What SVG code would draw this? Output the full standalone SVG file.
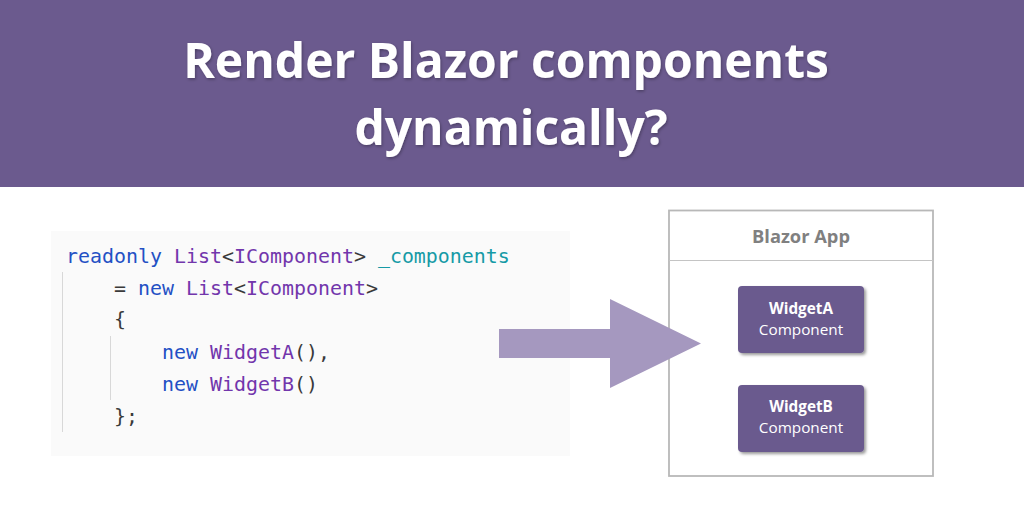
<svg xmlns="http://www.w3.org/2000/svg" width="1024" height="507" viewBox="0 0 1024 507">
<defs>
<filter id="ts" x="-10%" y="-20%" width="120%" height="140%"><feDropShadow dx="1" dy="1.5" stdDeviation="1.5" flood-color="#000" flood-opacity="0.3"/></filter>
<filter id="bs" x="-10%" y="-10%" width="125%" height="125%"><feDropShadow dx="2" dy="2" stdDeviation="1.5" flood-color="#000" flood-opacity="0.4"/></filter>
</defs>
<style>
.t{font-family:"Open Sans",sans-serif;font-weight:700;font-size:48px;fill:#fff;text-anchor:middle}
.c{font-family:"DejaVu Sans Mono",monospace;font-size:19.93px;fill:#3a3a3a;white-space:pre}
.k{fill:#2350c4}.p{fill:#7236ac}.f{fill:#169aa6}
.g{stroke:#d8d8d8;stroke-width:1;fill:none}
.n{fill:#6b5a8e;filter:url(#bs)}
.a{font-family:"Open Sans",sans-serif;font-size:15.300px;fill:#fff;text-anchor:middle}
.b{font-weight:700}
</style>
<rect width="1024" height="507" fill="#fff"/>
<rect id="banner" width="1024" height="187" fill="#6b5a8e"/>
<g id="title" filter="url(#ts)">
<text class="t" x="506" y="78">Render Blazor components</text>
<text class="t" x="511" y="145">dynamically?</text>
</g>
<g id="code">
<rect x="51" y="231" width="519" height="225" fill="#fafafa"/>
<path class="g" d="M62.500 272V432M110.500 336V400"/>
<text class="c" x="66" y="263"><tspan class="k">readonly</tspan> <tspan class="p">List</tspan>&lt;<tspan class="p">IComponent</tspan>&gt; <tspan class="f">_components</tspan></text>
<text class="c" x="114" y="295">= <tspan class="k">new</tspan> <tspan class="p">List</tspan>&lt;<tspan class="p">IComponent</tspan>&gt;</text>
<text class="c" x="114" y="326">{</text>
<text class="c" x="162" y="359"><tspan class="k">new</tspan> <tspan class="p">WidgetA</tspan>(),</text>
<text class="c" x="162" y="391"><tspan class="k">new</tspan> <tspan class="p">WidgetB</tspan>()</text>
<text class="c" x="114" y="423">};</text>
</g>
<g id="app">
<rect x="669" y="210.500" width="264" height="265.500" fill="#fff" stroke="#b8b8b8" stroke-width="1.800"/>
<path d="M669 260.500H933" stroke="#c4c4c4" stroke-width="1" fill="none"/>
<text x="801" y="243" style="font-family:'Open Sans',sans-serif;font-weight:700;font-size:18.300px;fill:#808080;text-anchor:middle">Blazor App</text>
</g>
<g id="widgetA">
<rect class="n" x="738" y="286" width="126" height="67" rx="4"/>
<text class="a b" x="801" y="314">WidgetA</text>
<text class="a" x="801" y="335">Component</text>
</g>
<g id="widgetB">
<rect class="n" x="738" y="385" width="126" height="67" rx="4"/>
<text class="a b" x="801" y="412">WidgetB</text>
<text class="a" x="801" y="433">Component</text>
</g>
<g id="connectors">
<polygon points="499,329 610,329 610,299 701,343.500 610,388 610,358 499,358" fill="#a598bf"/>
</g>
</svg>
